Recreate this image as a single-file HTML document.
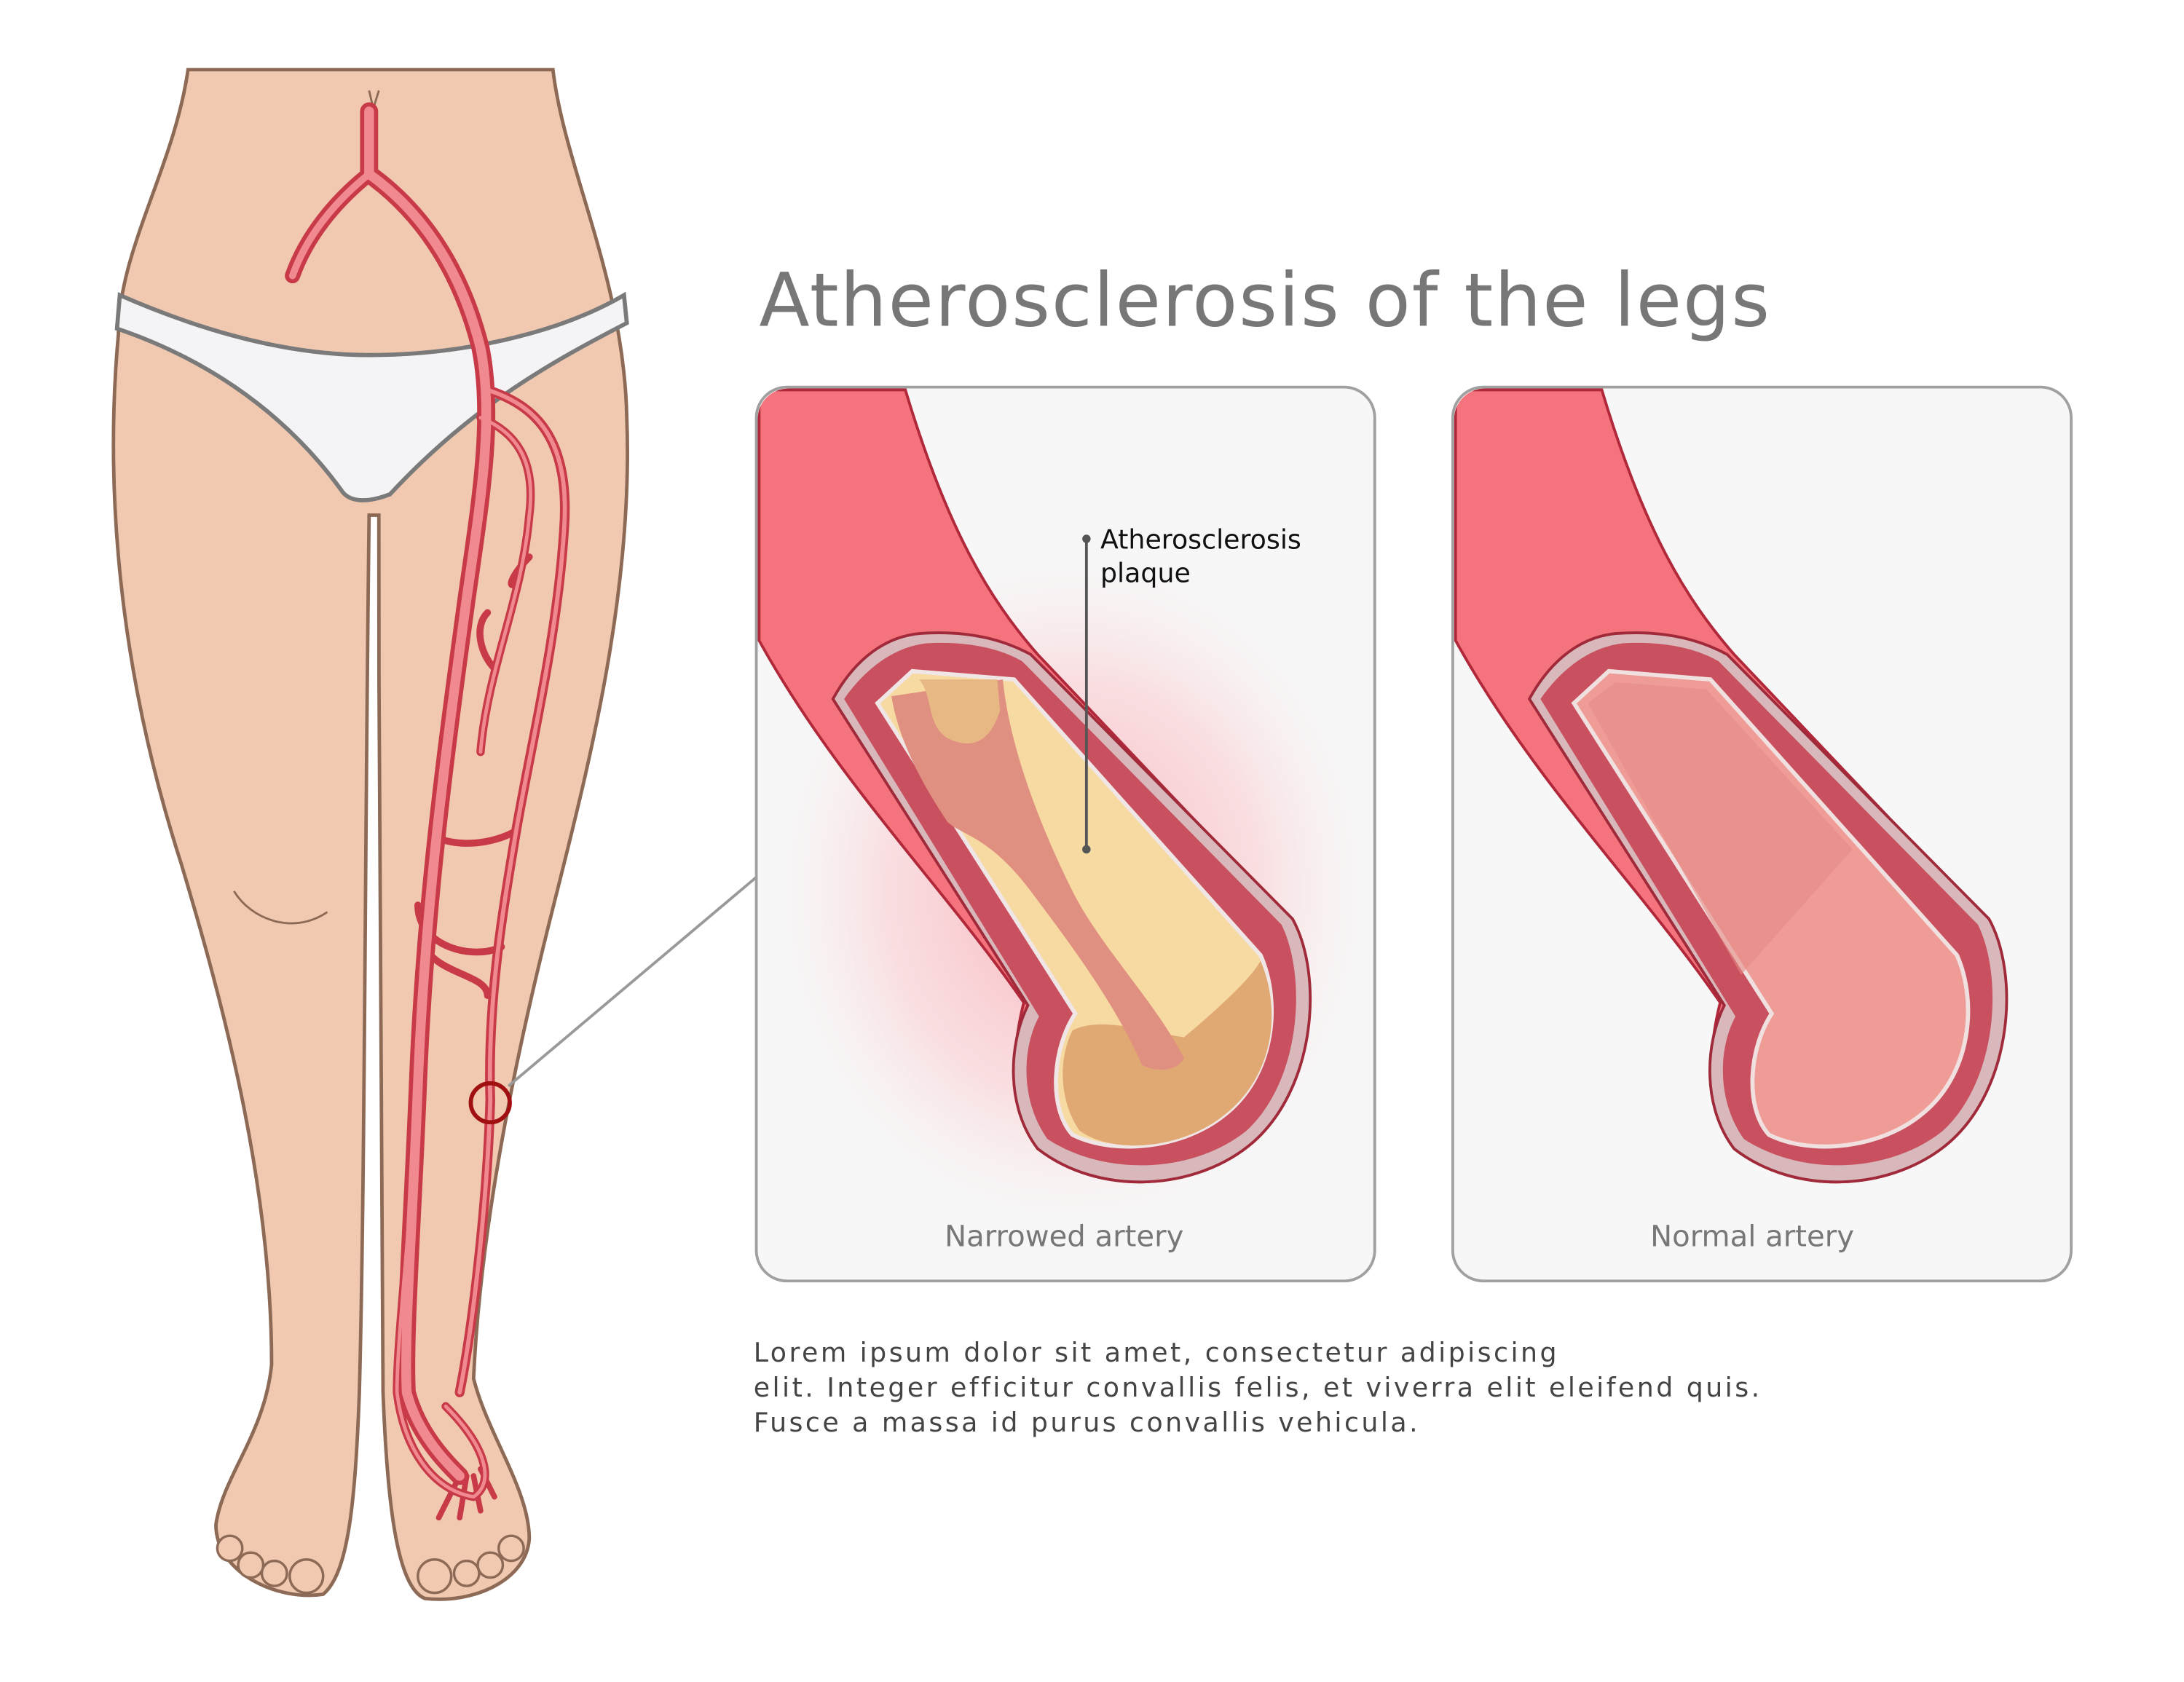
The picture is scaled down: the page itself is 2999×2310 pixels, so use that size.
<!DOCTYPE html>
<html><head><meta charset="utf-8"><style>
html,body{margin:0;padding:0;background:#fff;}
svg{display:block;}
text{font-family:"DejaVu Sans","Liberation Sans",sans-serif;}
</style></head><body>
<svg width="2999" height="2310" viewBox="0 0 1568 1208" preserveAspectRatio="none" xmlns="http://www.w3.org/2000/svg">
<defs>
<radialGradient id="glow" cx="0.5" cy="0.5" r="0.5">
<stop offset="0" stop-color="#f7a8b0" stop-opacity="0.9"/>
<stop offset="0.6" stop-color="#fbd0d4" stop-opacity="0.6"/>
<stop offset="1" stop-color="#f7f7f7" stop-opacity="0"/>
</radialGradient>
<clipPath id="c1"><rect x="544" y="279" width="442" height="640" rx="22"/></clipPath>
<clipPath id="c2"><rect x="1044" y="279" width="442" height="640" rx="22"/></clipPath>
<g id="vessel">
<path d="M545,280 L650,280 C680,380 710,430 745,470 L925,660 C950,700 945,780 900,820 C860,855 790,860 745,825 C720,790 730,740 735,720 C680,640 600,560 545,460 Z" fill="#f4737c" stroke="#b0283a" stroke-width="2"/>
<path d="M598,502 C610,480 630,458 660,455 C700,452 725,462 740,470 L928,660 C950,700 945,780 900,820 C860,855 790,860 745,825 C722,795 724,750 738,722 Z" fill="#d8b8bb" stroke="#a02a3a" stroke-width="2"/>
<path d="M606,502 C620,482 640,465 665,462 C700,460 722,468 734,475 L920,664 C938,700 935,775 895,812 C858,842 795,846 752,818 C732,790 734,752 746,730 Z" fill="#c9505e"/>
</g>
</defs>
<text x="545" y="234" font-size="53" fill="#777" letter-spacing="1">Atherosclerosis of the legs</text>

<rect x="543" y="278" width="444" height="642" rx="22" fill="#f7f7f7" stroke="#a0a0a0" stroke-width="2"/>
<g clip-path="url(#c1)">
<ellipse cx="770" cy="640" rx="230" ry="260" fill="url(#glow)"/>
<use href="#vessel"/>
<path d="M630,505 L655,482 L728,488 L905,686 C920,720 915,772 880,800 C850,825 800,830 770,815 C752,795 756,752 772,728 Z" fill="#f7d9a2" stroke="#f0e6e6" stroke-width="3"/>
<path d="M770,740 C790,730 820,740 850,745 C880,720 900,700 905,690 C920,725 915,772 880,800 C850,825 800,830 775,812 C760,790 760,760 770,740 Z" fill="#e0a872"/>
<path d="M640,500 L720,488 C725,540 750,600 770,640 C790,680 830,720 850,760 C845,770 830,770 820,765 C800,720 770,680 740,640 C710,600 690,600 680,590 C660,560 645,530 640,500 Z" fill="#e09080"/>
<path d="M660,488 C670,500 665,520 680,530 C700,540 712,530 718,510 L716,488 Z" fill="#e8b884"/>
</g>
<line x1="780" y1="387" x2="780" y2="610" stroke="#555" stroke-width="2"/>
<circle cx="780" cy="387" r="3" fill="#555"/><circle cx="780" cy="610" r="3" fill="#555"/>
<text x="790" y="394" font-size="19" fill="#111">Atherosclerosis</text>
<text x="790" y="418" font-size="19" fill="#111">plaque</text>
<text x="764" y="895" font-size="21" fill="#777" text-anchor="middle">Narrowed artery</text>

<rect x="1043" y="278" width="444" height="642" rx="22" fill="#f7f7f7" stroke="#a0a0a0" stroke-width="2"/>
<g clip-path="url(#c2)">
<use href="#vessel" x="500"/>
<path d="M1130,505 L1155,482 L1228,488 L1405,686 C1420,720 1415,772 1380,800 C1350,825 1300,830 1270,815 C1252,795 1256,752 1272,728 Z" fill="#f09c96" stroke="#f0e0e0" stroke-width="3"/>
<path d="M1140,505 L1160,490 L1225,495 L1330,610 L1250,700 Z" fill="#e48a86" opacity="0.6"/>
</g>
<text x="1258" y="895" font-size="21" fill="#777" text-anchor="middle">Normal artery</text>

<text font-size="19" fill="#444" letter-spacing="1.8">
<tspan x="541" y="978">Lorem ipsum dolor sit amet, consectetur adipiscing</tspan>
<tspan x="541" y="1003">elit. Integer efficitur convallis felis, et viverra elit eleifend quis.</tspan>
<tspan x="541" y="1028">Fusce a massa id purus convallis vehicula.</tspan>
</text>

<!-- body -->
<path d="M135,50 L397,50 C405,120 448,200 450,300 C455,430 420,560 395,660 C370,760 345,880 340,990 C350,1030 380,1070 380,1105 C378,1135 340,1152 305,1148 C285,1140 278,1080 275,1000 C273,850 272,600 272,370 L265,370 C262,600 262,850 258,1000 C255,1080 250,1130 232,1145 C200,1150 155,1130 155,1095 C160,1060 190,1030 195,980 C195,850 160,720 130,620 C85,480 75,350 85,240 C85,180 125,120 135,50 Z" fill="#f1c9b1" stroke="#8d6a55" stroke-width="2.5"/>
<g fill="#f1c9b1" stroke="#8d6a55" stroke-width="1.8">
<circle cx="165" cy="1112" r="9"/><circle cx="180" cy="1124" r="9"/><circle cx="197" cy="1130" r="9"/><circle cx="220" cy="1132" r="12"/>
<circle cx="312" cy="1132" r="12"/><circle cx="335" cy="1130" r="9"/><circle cx="352" cy="1124" r="9"/><circle cx="367" cy="1112" r="9"/>
</g>
<path d="M168,640 C180,660 210,672 235,655" stroke="#8d6a55" stroke-width="1.5" fill="none"/>
<path d="M265,65 L268,78 L272,65" stroke="#8d6a55" stroke-width="1.5" fill="none"/>
<path d="M86,212 C150,240 210,255 265,255 C330,255 400,240 448,212 L450,232 C400,258 340,290 280,355 C262,362 250,360 245,352 C200,290 140,255 84,236 Z" fill="#f4f4f6" stroke="#7a7a7a" stroke-width="3"/>
<g fill="none" stroke-linecap="round" stroke-linejoin="round">
<g stroke="#c93a48">
<path d="M265,80 L265,125 C300,150 330,190 345,250 C355,300 345,360 335,430 C320,540 305,650 300,780 C296,880 290,960 292,1000 C300,1030 320,1050 330,1060" stroke-width="13"/>
<path d="M265,125 C240,145 220,170 210,198" stroke-width="11"/>
<path d="M350,280 C380,290 410,310 405,380 C400,460 380,540 370,600 C360,660 350,720 352,790 C350,860 340,950 330,1000" stroke-width="7"/>
<path d="M345,300 C370,310 385,330 380,370 C375,430 350,480 345,540" stroke-width="6"/>
<path d="M380,400 C370,410 365,420 368,420 M350,440 C340,450 345,470 355,480" stroke-width="5"/>
<path d="M310,600 C330,610 355,605 368,598 M300,650 C300,680 340,690 360,680 M305,680 C315,700 350,700 350,715" stroke-width="5"/>
<path d="M300,780 C295,880 285,960 285,1000 C290,1040 310,1070 340,1075 C355,1065 350,1040 320,1010" stroke-width="6"/>
<path d="M330,1060 L315,1090 M335,1060 L330,1090 M340,1060 L345,1085 M345,1055 L355,1075" stroke-width="4"/>
</g>
<g stroke="#f08a90">
<path d="M265,80 L265,125 C300,150 330,190 345,250 C355,300 345,360 335,430 C320,540 305,650 300,780 C296,880 290,960 292,1000 C300,1030 320,1050 330,1060" stroke-width="7"/>
<path d="M265,125 C240,145 220,170 210,198" stroke-width="5"/>
<path d="M350,280 C380,290 410,310 405,380 C400,460 380,540 370,600 C360,660 350,720 352,790 C350,860 340,950 330,1000" stroke-width="3"/>
<path d="M345,300 C370,310 385,330 380,370 C375,430 350,480 345,540" stroke-width="2.5"/>
<path d="M300,780 C295,880 285,960 285,1000 C290,1040 310,1070 340,1075 C355,1065 350,1040 320,1010" stroke-width="2.5"/>
</g>
</g>
<circle cx="352" cy="792" r="14" fill="none" stroke="#a01010" stroke-width="3"/>
<line x1="365" y1="780" x2="543" y2="630" stroke="#999" stroke-width="2"/>
</svg>
</body></html>
